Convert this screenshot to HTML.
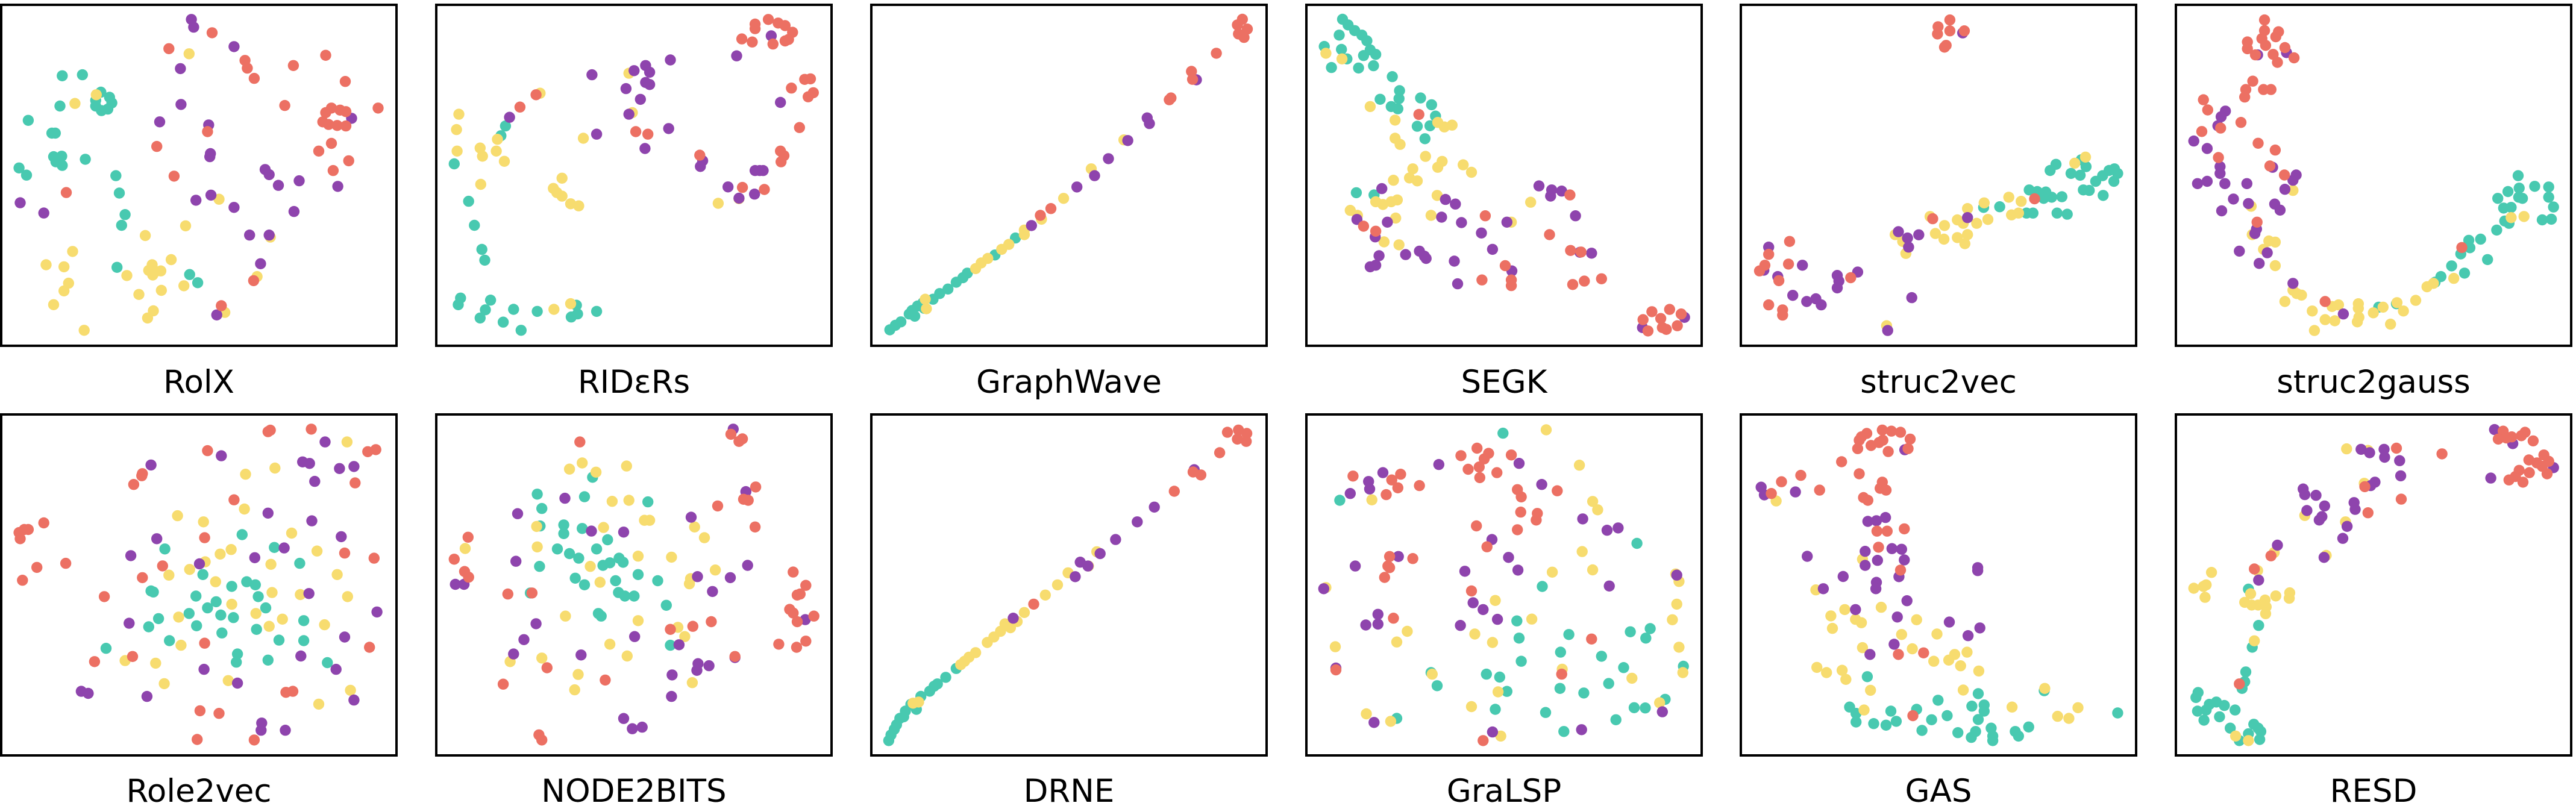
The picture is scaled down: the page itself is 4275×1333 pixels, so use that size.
<!DOCTYPE html>
<html><head><meta charset="utf-8">
<style>
html,body{margin:0;padding:0;background:#fff;}
svg{display:block;}
text{font-family:"DejaVu Sans","Liberation Sans",sans-serif;font-size:53px;fill:#000;text-anchor:middle;}
</style></head>
<body>
<svg id="s" width="4275" height="1333" viewBox="0 0 4275 1333" xmlns="http://www.w3.org/2000/svg">
<g fill="none" stroke="#000" stroke-width="4">
<rect x="2" y="8" width="656" height="566"/>
<rect x="724" y="8" width="656" height="566"/>
<rect x="1446" y="8" width="656" height="566"/>
<rect x="2168" y="8" width="656" height="566"/>
<rect x="2889" y="8" width="656" height="566"/>
<rect x="3611" y="8" width="656" height="566"/>
<rect x="2" y="688" width="656" height="566"/>
<rect x="724" y="688" width="656" height="566"/>
<rect x="1446" y="688" width="656" height="566"/>
<rect x="2168" y="688" width="656" height="566"/>
<rect x="2889" y="688" width="656" height="566"/>
<rect x="3611" y="688" width="656" height="566"/>
</g>
<g id="dots"></g>
<text x="330" y="652">RolX</text>
<text x="1052" y="652">RIDεRs</text>
<text x="1774" y="652">GraphWave</text>
<text x="2496" y="652">SEGK</text>
<text x="3217" y="652">struc2vec</text>
<text x="3939" y="652">struc2gauss</text>
<text x="330" y="1331">Role2vec</text>
<text x="1052" y="1331">NODE2BITS</text>
<text x="1774" y="1331">DRNE</text>
<text x="2496" y="1331">GraLSP</text>
<text x="3217" y="1331">GAS</text>
<text x="3939" y="1331">RESD</text>
</svg>
<script>
var C={t:"#48c9b0",y:"#f7dc6f",p:"#8e44ad",r:"#ec7063"};
var T={
1:function(x,y){return [x*0.9566,y*0.8501];},
2:function(x,y){return [1440+x*0.9184,y*0.3763];},
3:function(x,y){return [2880+x*0.8897,y*0.3763];},
4:function(x,y){return [1440+x*0.9184,680+y*0.3763];},
5:function(x,y){return [2880+x*0.8897,680+y*0.3763];}
};
var D=[
[1,"t","108,148 143,146 104,207 49,235 90,260 96,260 166,196 175,180 190,190 194,201 187,213 176,216 166,207 93,306 107,305 97,316 108,323 148,311 33,328 46,342 201,343 207,377 217,419 211,440 203,522 329,536 343,552"],
[1,"y","328,105 167,185 130,202 380,389 322,441 252,460 469,463 126,491 80,517 111,521 119,553 111,568 93,595 146,645 220,538 241,575 264,517 258,528 270,530 279,529 265,537 297,507 280,567 319,558 266,607 256,621 390,610 446,540"],
[1,"p","332,38 336,53 406,91 313,134 314,204 277,238 362,244 365,300 364,306 460,331 467,341 483,362 519,353 586,364 610,231 35,396 76,416 340,391 366,381 406,405 510,413 433,459 467,459 452,515 376,615"],
[1,"r","368,64 293,95 425,118 429,133 441,153 509,128 565,108 599,159 494,206 656,211 565,220 575,211 590,215 600,218 560,238 570,243 585,245 600,246 575,280 553,295 578,333 605,314 272,286 360,257 302,344 115,376 440,548 384,597"],
[1,"t","877,246 869,265 788,320 813,393 823,440 836,487 841,508 799,582 795,595 842,605 833,621 851,586 873,629 891,604 904,645 932,608 991,619 1002,613 1000,596 1035,608"],
[1,"y","1091,143 1097,220 937,182 796,223 792,253 793,295 833,289 837,305 861,295 875,315 863,272 834,360 975,348 960,368 966,376 975,383 990,398 1004,402 1012,270 1246,397 1282,388 961,604 990,593"],
[1,"p","1338,70 1278,109 1163,117 1120,128 1127,141 1100,138 1086,173 1120,161 1127,165 1111,194 1091,223 1160,251 1119,290 1027,146 1035,262 884,229 1354,200 1219,314 1215,325 1310,333 1318,333 1324,333 1263,365 1309,379 1282,387"],
[1,"r","1310,47 1310,56 1333,38 1350,45 1362,50 1375,63 1287,76 1305,82 1341,86 1362,80 1368,77 1396,155 1406,154 1373,172 1402,189 1411,181 1387,249 1354,295 1360,304 1355,316 1214,303 1288,366 1326,370 1103,257 1124,262 930,185 902,209"],
[1,"t","420,1044 286,1072 520,1100 476,1069 352,1122 262,1154 266,1156 340,1164 375,1175 402,1145 428,1136 443,1142 448,1165 360,1187 328,1198 383,1201 405,1206 461,1187 258,1224 275,1208 341,1222 385,1236 445,1229 527,1212 294,1251 484,1250 527,1251 184,1266 412,1277 410,1293 465,1289 568,1294"],
[1,"y","602,863 477,914 426,926 424,994 308,1007 353,1019 506,1041 550,1076 401,1073 382,1082 356,1097 329,1112 293,1123 374,1136 470,1102 585,1122 603,1165 472,1157 521,1161 444,1198 402,1180 467,1223 490,1209 310,1205 563,1220 314,1260 217,1290 270,1295 285,1335 396,1329 608,1348 553,1375"],
[1,"p","564,863 525,902 537,905 589,915 614,911 546,940 262,908 384,890 465,1002 541,1017 592,1048 272,1052 227,1085 346,1101 442,1089 493,1070 536,1159 654,1195 224,1217 598,1244 522,1281 583,1307 354,1307 412,1334 141,1350 153,1354 255,1360 614,1367 454,1412 453,1426 495,1426"],
[1,"r","465,843 469,840 540,838 638,882 652,878 616,943 360,880 246,929 247,925 232,946 406,976 33,1040 42,1034 49,1034 35,1052 76,1021 64,1108 39,1133 114,1100 181,1165 247,1128 282,1105 355,1050 598,1080 649,1090 230,1282 164,1292 355,1256 641,1264 496,1352 508,1350 347,1388 380,1393 342,1444 441,1445"],
[1,"t","1028,932 932,965 940,993 1014,970 1124,980 978,1025 937,1027 978,1042 1010,1032 1054,1054 1035,1072 967,1072 988,1081 1004,1090 1058,1099 1046,1104 1074,1090 1081,1098 936,1106 998,1129 1014,1142 1068,1134 1107,1122 1141,1134 1073,1157 1084,1164 1100,1164 1156,1182 1038,1198 1043,1203 1163,1260 920,1158"],
[1,"y","1010,904 988,916 1034,922 1087,910 1062,979 1091,977 1118,1016 1127,1016 1205,1029 1222,1050 1047,1030 931,1028 932,1068 807,1071 1107,1086 1165,1088 1024,1106 1041,1137 1241,1113 1198,1130 1196,1140 981,1203 1107,1212 1176,1225 1188,1243 1058,1258 1088,1281 940,1285 885,1292 1003,1317 1201,1333 997,1347"],
[1,"p","1272,838 1294,960 980,973 898,1003 1199,1010 1026,1037 1082,1039 1210,1126 1297,1104 1267,1128 1236,1155 1397,1210 895,1096 790,1141 805,1141 930,1218 909,1249 1101,1243 1178,1259 891,1277 1008,1279 1211,1296 1230,1300 1209,1309 1166,1318 1275,1284 1165,1360 1082,1403 1097,1423 1114,1420"],
[1,"r","1006,863 1268,848 1282,862 1288,857 1311,951 1290,975 1298,977 1245,988 1310,1029 812,1049 788,1092 806,1116 813,1127 881,1160 923,1158 1376,1117 1398,1143 1388,1160 1383,1162 1370,1190 1376,1197 1383,1214 1412,1203 1398,1252 1351,1258 1382,1264 1234,1214 1202,1223 1163,1229 1275,1282 949,1304 873,1336 1050,1328 935,1435 940,1445"],
[2,"t","267,1050 230,1125 180,1205 172,1225 160,1245 145,1275 130,1295 118,1320 100,1335 90,1350 80,1370 75,1385 85,1395 60,1420 50,1435 40,1455 102,1360"],
[2,"y","463,617 404,745 354,875 314,967 283,1015 283,1035 255,1078 242,1100 217,1140 205,1160 195,1185 104,1320 106,1362"],
[2,"p","594,352 505,520 509,545 470,620 435,700 410,775 378,825 296,995"],
[2,"r","677,85 668,110 686,128 670,150 680,165 630,235 585,315 587,350 545,440 548,432 331,920 312,950"],
[2,"t","858,85 868,110 880,135 893,155 902,180 852,155 825,205 856,218 866,260 838,298 887,300 914,290 908,220 918,240 896,245 948,338 961,400 960,435 926,438 999,432 1019,462 946,470 958,480 1026,512 993,557 1016,555 1007,612 883,850 915,860"],
[2,"y","828,235 857,260 908,470 953,530 1030,540 1042,560 1056,552 953,610 962,637 1008,690 1038,712 1030,738 1076,727 1091,760 985,745 950,795 979,785 993,798 1029,862 957,882 946,890 931,902 918,890 872,928 885,950 954,962 1018,950 933,1067 960,1080 1198,892 1163,980"],
[2,"p","929,832 1044,880 1062,900 1037,958 1073,982 1155,980 1109,1028 884,968 939,980 917,1045 1129,1100 997,1108 1006,1130 1009,1140 972,1123 924,1128 918,1170 908,1177 1060,1152 1164,1195 1066,1252 1213,820 1236,838 1254,843 1234,865 1279,952 1287,1113 1308,1117 1476,1400 1400,1445"],
[2,"r","996,505 896,998 918,1020 1116,952 1232,1035 1269,860 1270,1105 1289,1112 1152,1172 1110,1235 1163,1235 1163,1260 1274,1255 1295,1240 1326,1230 1417,1375 1449,1365 1433,1405 1470,1385 1401,1410 1436,1445 1410,1460 1463,1437 1443,1453"],
[3,"t","463,915 493,912 543,940 555,940 600,940 619,945 548,838 563,845 575,875 579,847 590,870 609,868 587,752 598,725 626,765 643,773 654,735 649,838 660,840 686,862 672,800 685,775 697,752 707,745 713,765 706,800 645,705"],
[3,"y","282,1437 312,1065 318,1118 298,1035 363,955 373,1030 389,1055 390,995 414,970 425,985 414,1048 428,1075 433,1035 433,920 450,985 464,895 471,968 510,870 533,888 515,948 528,940 653,693 633,720"],
[3,"p","424,145 62,1090 53,1192 79,1220 125,1170 190,1215 193,1240 228,1200 190,1270 107,1303 133,1330 150,1318 160,1345 304,1022 321,1050 342,1036 323,1090 329,1313 284,1458 433,960"],
[3,"r","400,88 378,118 400,136 377,150 427,136 390,208 393,200 101,1065 62,1122 55,1170 45,1195 99,1165 81,1238 215,1225 62,1345 88,1367 88,1390 368,965 558,877"],
[3,"t","1460,775 1491,822 1517,825 1441,845 1462,830 1468,875 1517,870 1422,875 1461,870 1526,913 1433,918 1447,915 1435,975 1443,985 1505,970 1522,967 1420,1015 1390,1055 1368,1060 1370,1093 1353,1120 1403,1145 1336,1173 1360,1205 1316,1220 1305,1245 1200,1355 1233,1340"],
[3,"y","1040,840 962,910 964,1035 995,1063 1007,1068 985,1100 1007,1172 1040,1280 1047,1295 1056,1302 1025,1330 1076,1372 1113,1352 1125,1345 1162,1340 1162,1360 1100,1410 1118,1415 1160,1420 1163,1400 1190,1380 1208,1355 1234,1335 1246,1372 1222,1430 1080,1458 1269,1325 1290,1265 1302,1250 1340,1228 1447,960 1471,955"],
[3,"p","914,490 906,515 900,555 855,622 880,655 904,735 904,765 862,810 880,800 913,810 954,810 1046,772 1040,795 1025,835 929,878 957,898 1006,900 1016,927 907,930 972,1010 969,1030 940,1108 992,1115 977,1162 1040,1250 1134,1385 1002,738 1028,232 974,242"],
[3,"r","987,88 987,135 1013,140 1008,162 955,185 982,170 989,200 955,215 1025,210 970,242 1003,240 1011,275 1042,255 965,358 952,395 985,395 999,395 950,428 873,440 881,485 943,540 870,580 905,565 975,632 1007,662 901,695 997,732 1024,772 973,980 1100,1330 1355,1092"],
[4,"t","160,1142 141,1181 126,1210 120,1220 112,1242 96,1265 78,1300 88,1322 68,1330 65,1355 58,1362 52,1390 48,1410 42,1435 38,1460"],
[4,"y","414,627 399,690 362,720 343,773 321,818 283,895 270,935 248,945 258,962 240,978 228,1003 216,1027 195,1072 183,1092 175,1110 168,1125 82,1295 92,1290"],
[4,"p","590,265 518,430 487,495 448,573 420,635 384,673 398,690 375,737 263,920"],
[4,"r","650,100 670,90 685,105 668,130 684,140 636,190 588,275 602,288 554,360 300,858"],
[4,"t","1148,104 853,400 1390,590 1219,780 1173,932 1267,992 1177,1008 1378,980 1414,966 1406,1008 1252,1070 1326,1088 1181,1110 1366,1138 1474,1132 1018,1160 1118,1167 1142,1180 1029,1218 1251,1230 1339,1208 1155,1243 1294,1250 1441,1278 1134,1322 1225,1336 1385,1315 1405,1316 1352,1368 956,1362 1258,1420"],
[4,"y","1226,89 1286,245 911,398 1310,405 1319,442 1291,626 1237,717 1310,707 1460,725 1466,758 828,785 1134,842 1462,858 1200,924 1454,927 975,978 1097,990 956,1025 1129,1027 845,1046 1466,1048 1255,1145 1020,1167 1381,1185 1473,1160 1139,1245 1431,1293 1091,1310 901,1342 945,1375 1144,1440"],
[4,"p","1032,242 1177,237 931,278 905,317 907,350 872,370 1218,330 1292,482 1336,532 1356,522 1128,573 1158,652 959,648 881,690 1079,713 1175,708 1462,730 824,790 1340,778 1094,852 1112,882 922,903 900,950 922,946 1138,925 1071,952 846,1140 1436,1333 915,1380 1129,1422 1290,1412"],
[4,"r","1101,170 1072,203 1122,193 1114,217 1163,200 1085,263 1105,253 1137,278 1106,300 877,293 963,285 947,310 958,345 997,335 937,375 1174,353 1181,385 1246,358 1180,452 1210,458 1208,487 1100,513 1174,530 1119,605 943,648 985,657 940,690 943,697 934,740 1091,800 950,920 1308,1012 846,1148 1254,1167 1112,1460"],
[5,"t","246,1178 453,1253 378,1282 213,1312 225,1340 290,1330 338,1322 441,1308 464,1303 464,1330 225,1378 258,1385 281,1392 300,1375 366,1368 395,1350 453,1367 348,1415 415,1425 448,1420 440,1446 477,1405 480,1440 480,1460 522,1420 528,1440 547,1400 713,1338 576,1240"],
[5,"y","76,403 237,660 150,795 204,882 178,910 272,872 224,925 235,940 338,927 181,965 310,992 376,990 237,1050 330,1055 409,1080 432,1070 370,1110 398,1105 420,1130 454,1153 152,1137 170,1160 199,1150 206,1190 252,1238 425,1237 577,1230 240,1325 516,1312 639,1315 601,1353 622,1362"],
[5,"p","48,342 54,376 112,363 316,177 247,493 263,490 280,476 242,625 292,613 310,616 134,647 265,665 315,663 242,687 452,697 452,710 201,736 305,737 263,762 262,790 164,790 320,843 224,882 302,915 399,937 456,963 434,997 296,1035 251,1080"],
[5,"r","274,90 291,95 308,100 245,105 235,120 231,135 326,130 275,135 268,145 253,158 228,172 285,185 322,172 198,230 122,290 86,318 231,283 274,320 270,347 281,355 157,355 67,370 239,388 247,400 315,526 264,536 283,536 267,607 308,708 304,1080 351,1073 331,1350"],
[5,"t","957,792 976,952 964,1048 952,1157 950,1200 945,1230 863,1248 859,1270 884,1300 897,1290 912,1305 862,1330 878,1325 874,1370 903,1355 932,1325 923,1405 967,1388 975,1405 980,1420 957,1430 940,1460 978,1455"],
[5,"y","1140,173 1180,180 1173,325 1062,467 1138,495 1102,643 1005,630 974,710 888,718 855,788 873,780 878,773 876,828 961,812 950,850 963,862 975,862 988,840 990,870 989,900 1008,822 1034,808 1033,832 968,1020 933,1440 957,1460"],
[5,"p","1416,88 1450,150 1526,256 1409,302 1167,175 1183,190 1210,175 1211,210 1239,225 1241,292 1193,320 1185,335 1059,350 1062,375 1083,378 1099,425 1154,410 1156,440 1066,445 1094,472 1089,487 1141,515 1133,568 1011,598 1098,652 976,752"],
[5,"r","1432,95 1423,130 1438,125 1448,120 1473,100 1466,115 1488,138 1318,195 1233,170 1508,200 1480,222 1495,235 1517,228 1505,250 1462,268 1481,278 1455,295 1443,310 1469,320 1514,283 1174,340 1242,395 1180,455 999,645 968,703 940,1210"]
];
var out="";
D.forEach(function(d){
  var f=T[d[0]],col=C[d[1]];
  d[2].split(" ").forEach(function(p){
    var a=p.split(","),q=f(+a[0],+a[1]);
    out+='<circle cx="'+q[0].toFixed(1)+'" cy="'+q[1].toFixed(1)+'" r="9.2" fill="'+col+'"/>';
  });
});
document.getElementById("dots").innerHTML=out;
</script>
</body></html>
